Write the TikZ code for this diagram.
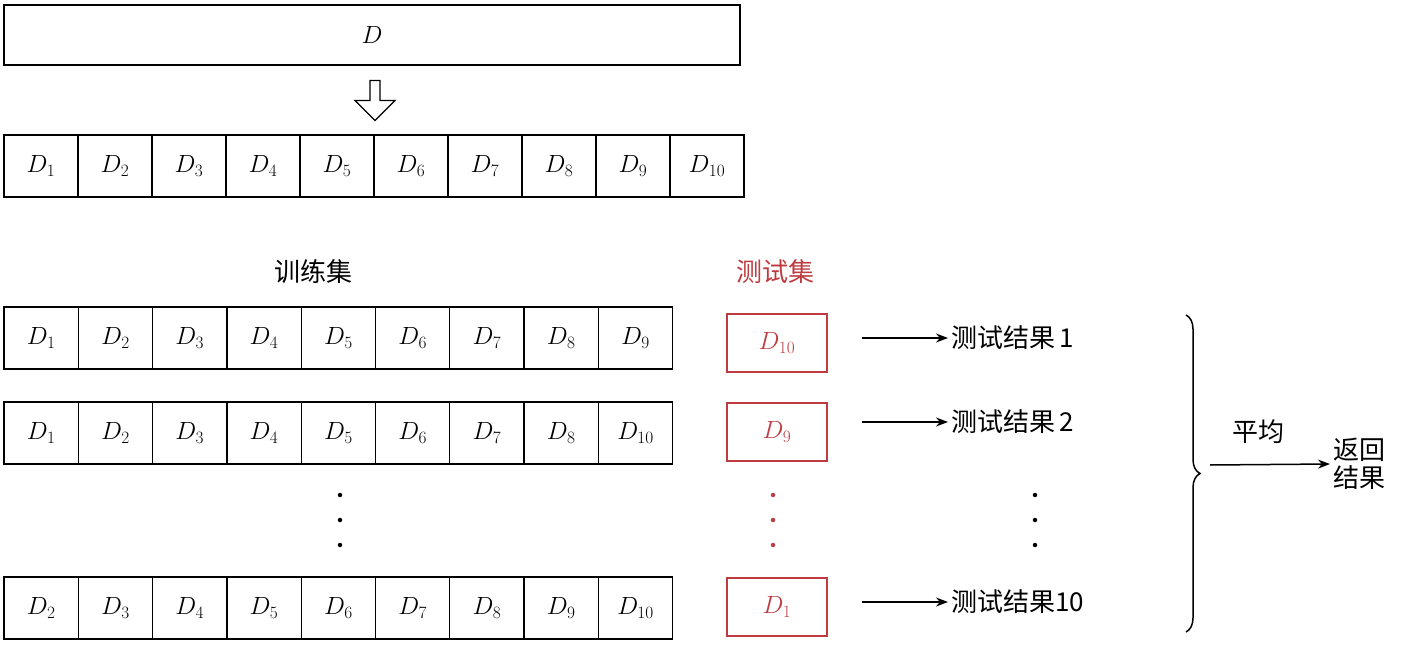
\documentclass[tikz,border=0pt]{standalone}
\usepackage{fontspec}
\newfontfamily\cjk{Noto Sans CJK SC}
\usetikzlibrary{shapes.arrows,decorations.pathreplacing,arrows.meta}
\definecolor{myred}{RGB}{190,60,65}
\begin{document}
\begin{tikzpicture}[x=1pt,y=-1pt,
 cell/.style={draw,line width=1.3pt,minimum height=62pt,inner sep=0pt,font=\fontsize{26}{26}\selectfont},
 tcell/.style={draw=myred,text=myred,line width=1.3pt,minimum width=100pt,minimum height=58pt,font=\fontsize{26}{26}\selectfont},
 lab/.style={font=\cjk\fontsize{26}{28}\selectfont},
 arr/.style={-{Stealth[length=12pt,width=9pt]},line width=1.5pt},
 dot/.style={circle,fill,inner sep=0pt,minimum size=4.5pt}]
\useasboundingbox (0,0) rectangle (1417,650);
\node[cell,minimum width=736pt,minimum height=60pt] (D) at (372,35) {$D$};
\node[draw,line width=1.3pt,single arrow,shape border rotate=270,minimum height=40pt,minimum width=40pt,single arrow head extend=8pt,inner sep=2pt] (ha) at (375,98) {};
\foreach \i in {1,...,10}{\node[cell,minimum width=74pt] (a\i) at ({4+74*(\i-0.5)},166) {$D_{\i}$};}
\node[lab] (tr) at (313,272) {训练集};
\node[lab,text=myred] (te) at (775,272) {测试集};
\foreach \i in {1,...,9}{\node[cell,minimum width=74.3pt] (b\i) at ({4+74.3*(\i-0.5)},338) {$D_{\i}$};}
\foreach[count=\j] \i in {1,2,3,4,5,6,7,8,10}{\node[cell,minimum width=74.3pt] (c\j) at ({4+74.3*(\j-0.5)},433) {$D_{\i}$};}
\foreach[count=\j] \i in {2,3,4,5,6,7,8,9,10}{\node[cell,minimum width=74.3pt] (d\j) at ({4+74.3*(\j-0.5)},608) {$D_{\i}$};}
\foreach \y [count=\k] in {495,520,545}{\node[dot] (p\k) at (340,\y) {}; \node[dot,myred] (q\k) at (773,\y) {}; \node[dot] (r\k) at (1035,\y) {};}
\node[tcell] (t1) at (777,343) {$D_{10}$};
\node[tcell] (t2) at (777,432) {$D_{9}$};
\node[tcell] (t3) at (777,607) {$D_{1}$};
\node[lab,anchor=west] (r1) at (948,338) {测试结果\,1};
\node[lab,anchor=west] (r2) at (948,422) {测试结果\,2};
\node[lab,anchor=west] (r3) at (948,602) {测试结果10};
\coordinate (s1) at (862,338);
\coordinate (s2) at (862,422);
\coordinate (s3) at (862,602);
\draw[arr] (s1) -- (r1.west);
\draw[arr] (s2) -- (r2.west);
\draw[arr] (s3) -- (r3.west);
\draw[line width=1.5pt,decorate,decoration={brace,amplitude=14pt}] (1186,315) coordinate (bt) -- (1186,632) coordinate (bb);
\coordinate (bm) at (1210,465);
\node[lab] (avg) at (1258,432) {平均};
\node[lab,align=left,anchor=west] (ret) at (1330,464) {返回\\结果};
\draw[arr] (bm) -- (ret.west);
\end{tikzpicture}
\end{document}
